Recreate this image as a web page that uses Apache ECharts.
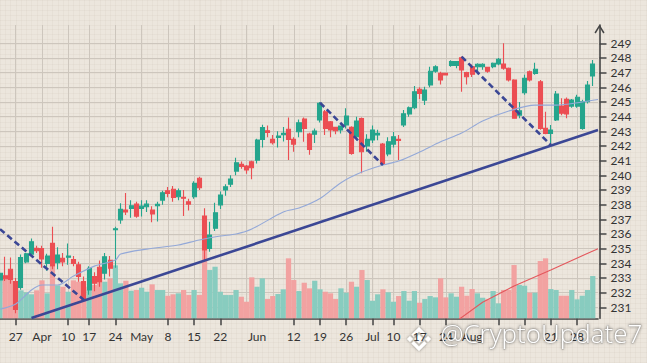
<!DOCTYPE html>
<html><head><meta charset="utf-8">
<script src="https://cdn.jsdelivr.net/npm/echarts@6/dist/echarts.min.js"></script>
<style>
html,body{margin:0;padding:0;background:#ece6dd;}
#chart{width:647px;height:363px;background-color:#ece6dd;
background-image:
 repeating-linear-gradient(0deg, rgba(196,184,170,0.13) 0px, rgba(196,184,170,0.13) 1px, transparent 1px, transparent 4.89px),
 repeating-linear-gradient(90deg, rgba(196,184,170,0.13) 0px, rgba(196,184,170,0.13) 1px, transparent 1px, transparent 5.25px);}
</style></head>
<body><div id="chart"></div>
<script>
// ---- data ----
const open = [232.86,233.15,233.6,232.75,232.36,234.1,234.63,235.02,235.0,234.0,
235.36,234.04,234.35,234.42,234.25,233.9,232.75,232.18,233.1,233.73,
233.32,234.2,236.3,236.95,237.63,237.75,238.04,237.75,237.86,237.63,
237.93,238.31,238.95,239.05,238.54,238.5,238.2,238.54,239.8,237.22,
235.02,236.39,237.98,239.0,239.39,240.29,240.75,240.63,240.93,241.04,
242.45,243.04,242.45,242.59,242.77,243.14,242.45,242.97,243.84,242.82,
242.8,243.77,244.34,243.65,243.27,243.09,243.43,243.27,242.63,243.88,
242.0,242.41,242.75,242.13,241.45,242.13,242.45,243.43,244.18,244.61,
245.86,245.13,246.16,247.1,246.95,246.95,247.5,247.5,248.02,247.0,
247.4,247.4,247.4,247.36,247.41,247.59,247.59,247.3,246.5,244.1,
245.63,247.06,246.95,246.38,243.2,242.86,243.77,244.72,245.18,244.72,
244.72,243.2,245.02,246.77];
const close = [233.32,232.95,232.9,230.85,234.4,234.65,235.47,234.86,234.3,234.5,
233.82,234.57,234.1,234.5,234.0,233.1,231.55,233.66,232.65,232.75,
234.45,233.66,236.35,237.68,237.5,237.93,237.22,237.9,238.04,237.36,
238.02,238.81,238.77,238.5,238.95,238.44,238.04,239.45,239.15,234.91,
235.93,237.45,238.66,239.22,239.75,240.86,240.6,240.36,240.52,242.41,
243.25,242.93,242.22,242.68,242.86,242.45,242.13,243.59,243.2,241.77,
243.02,244.91,243.2,243.09,243.04,243.36,244.04,241.5,243.7,241.61,
242.45,243.09,242.86,240.77,242.29,242.63,242.38,244.2,244.6,245.7,
245.59,245.82,247.1,247.4,246.5,246.84,247.75,247.75,247.18,246.72,
246.89,247.57,247.57,247.1,247.64,247.91,247.3,246.5,243.89,244.4,
246.61,246.5,247.23,243.2,242.86,243.09,245.54,244.23,244.18,245.13,
245.32,245.02,246.16,247.59];
const low = [232.7,232.8,232.6,230.6,232.2,234.0,234.5,234.7,233.7,233.5,
233.6,233.6,233.8,233.9,233.8,232.75,231.5,231.85,232.1,232.4,
232.9,233.1,233.7,236.7,237.3,237.1,237.1,237.2,237.5,236.8,
236.85,238.0,238.5,238.2,238.3,237.22,237.6,238.4,239.0,234.2,
234.79,236.2,237.7,238.6,239.2,240.0,240.45,240.1,239.73,240.8,
241.9,242.6,242.1,241.9,242.3,241.04,241.6,242.6,242.29,241.4,
242.2,243.6,242.75,242.59,242.8,242.85,243.2,241.4,242.4,240.14,
241.6,242.2,242.4,240.7,241.3,241.9,241.04,243.3,244.0,244.5,
245.2,244.79,246.0,247.0,246.2,246.8,247.4,247.3,245.7,246.2,
246.7,246.9,247.2,247.0,247.3,247.5,247.2,246.4,243.85,243.9,
245.5,246.4,246.85,243.1,242.8,242.07,243.7,244.1,243.9,244.6,
244.6,243.1,244.9,246.09];
const high = [233.5,234.45,234.4,233.0,234.6,234.7,235.7,235.2,235.2,234.65,
236.5,235.1,234.7,235.36,234.5,234.1,233.1,233.8,233.4,234.2,
234.7,234.5,236.5,238.1,238.8,238.3,238.2,238.3,238.3,237.9,
238.2,238.95,239.2,239.27,239.1,239.0,238.4,239.6,239.9,237.75,
236.84,238.13,238.9,239.4,240.0,241.2,240.95,240.7,241.0,242.5,
243.45,243.4,242.75,243.0,243.3,243.95,242.6,243.8,243.95,242.9,
243.2,245.0,244.45,243.7,243.3,243.4,244.57,243.35,244.0,243.95,
242.8,243.4,243.1,242.2,242.6,242.95,242.75,244.45,244.7,246.09,
246.0,246.04,247.4,247.5,247.07,247.0,247.85,247.8,248.1,247.07,
247.55,247.65,247.65,247.4,247.7,248.0,249.0,247.35,246.55,245.0,
246.85,247.15,247.68,246.5,244.34,243.43,245.75,245.25,245.3,245.2,
245.5,245.15,246.43,247.86];
const volume = [45,40,48,35,28,26,24,28,38,25,
52,33,31.6,26.6,38,36.6,31.6,28.3,33.3,38.3,
36.6,40,53,35,37.6,27.6,28.3,30.6,26.6,34,
28.3,28.3,22.6,24,25,28.3,23.3,28.3,23.3,78,
48.3,51.6,26.6,23.3,23.3,28.3,21.6,16.6,41,31.6,
40,19.3,22.3,24.3,29,60,38.3,27.3,35.6,30,
37.6,29,26.6,25,19.3,30,25.6,36.6,31.6,48.3,
38.3,17.6,24,29,26,16.6,22.3,27.3,17.6,27.3,
15.6,19.3,22.3,21,40,21,25,21.6,31.6,22.6,
29.3,25,20.6,19,27.3,15,28.3,28.3,53.3,33.3,
32.6,25.6,25.6,57.3,60,29.3,28.3,22.6,22.6,28.3,
19,22.6,28.3,42.3];
// moving averages: [candle index, price]
const maBlue = [[0,230.88],[3,231.23],[6,232.18],[8,232.52],[11,232.52],[14,233.13],[18,233.81],[22,234.22],[23,234.63],[28,234.97],[34,235.25],[38,235.59],[42,235.86],[45,236.0],[48,236.34],[54,237.5],[57,237.77],[61,238.42],[65,239.5],[69,240.22],[73,240.7],[76,240.97],[80,241.59],[84,242.29],[88,242.88],[92,243.7],[97,244.38],[102,244.79],[106,244.79],[111,245.0],[114,245.17]];
const maRed = [[87,230.05],[92,231.35],[98,232.45],[105,233.55],[109,234.2],[114,235.0]];
const trendLine = [[6,230.27],[114,243.09]];
const dashA = [[0,236.33],[16,231.5]];
const dashB = [[61,244.95],[73,240.7]];
const dashC = [[88,248.09],[105,242.07]];
// axis labels (the week labels under the watermark are not visible in the reference)
const categoryCount = 115;
const xLabelIdx = [3,8,13,17,22,27,32,37,42,49,56,61,66,71,75,80,85,90,105,110];
const xLabels = ['27','Apr','10','17','24','May','8','15','22','Jun','12','19','26','Jul','10','17','24','Aug','21','28'];
const xTickIdx = [3,13,17,22,32,37,42,56,61,66,71,75,80,85,95,100,105,110];
const xGridIdx = [3,8,13,17,22,27,32,37,42,47,52,56,61,66,71,75,80,85,90,95,100,105,110];
const yTicks = [231,232,233,234,235,236,237,238,239,240,241,242,243,244,245,246,247,248,249];

// ---- build ----
const categories = Array.from({length: categoryCount}, (_, i) => 'd' + i);
const labelMap = {};
xLabelIdx.forEach((k, j) => { labelMap['d' + k] = xLabels[j]; });
const tickSet = new Set(xTickIdx), gridSet = new Set(xGridIdx), labelSet = new Set(xLabelIdx);
const candleData = open.map((o, i) => [o, close[i], low[i], high[i]]);
const UP = '#25a58d', DN = '#ec4e53', VUP = '#88ccbf', VDN = '#f2a2a1';
const AX = '#454545', NAVY = '#3b4795', GRID = '#cdc6bd';

const chart = echarts.init(document.getElementById('chart'), null, {renderer: 'svg'});
const dashStyle = {color: NAVY, width: 2.6, type: [6, 3.5]};
chart.setOption({
  animation: false,
  backgroundColor: 'transparent',
  textStyle: {fontFamily: 'Lato'},
  grid: {left: -0.5, top: 25, width: 598.5, height: 293.33},
  xAxis: {
    type: 'category', data: categories, boundaryGap: false,
    axisLine: {onZero: false, lineStyle: {color: AX, width: 1.6}},
    axisTick: {interval: (i) => tickSet.has(i), length: 7, lineStyle: {color: AX, width: 1.5}},
    axisLabel: {interval: (i) => labelSet.has(i), formatter: (v) => labelMap[v] || '', margin: 12, color: '#333', fontSize: 12, fontFamily: 'Lato'},
    splitLine: {show: true, interval: (i) => gridSet.has(i), lineStyle: {color: GRID, width: 1}}
  },
  yAxis: [{
    type: 'value', position: 'right', offset: 1.5, min: 230.25, max: 250.25,
    axisLine: {show: true, lineStyle: {color: AX, width: 1.6},
      symbol: ['none', 'path://M0,8 L5,0 L10,8 L8.7,8.9 L5,2.7 L1.3,8.9 Z'], symbolSize: [12, 9], symbolOffset: [0, -4]},
    axisTick: {show: true, length: 7, lineStyle: {color: AX, width: 1.5}, customValues: yTicks},
    axisLabel: {customValues: yTicks, margin: 11, color: '#333', fontSize: 12, fontFamily: 'Lato'},
    splitLine: {show: true, lineStyle: {color: GRID, width: 1}}
  }, {
    type: 'value', min: 0, max: 293.33, show: false
  }],
  series: [
    {type: 'bar', yAxisIndex: 1, barWidth: '100%', barCategoryGap: '0%', z: 1, silent: true,
     data: volume.map((v, i) => ({value: v, itemStyle: {color: close[i] >= open[i] ? VUP : VDN}}))},
    {type: 'line', data: maRed, symbol: 'none', lineStyle: {color: '#e4575c', width: 1.1}, z: 2, silent: true},
    {type: 'candlestick', data: candleData, barWidth: '86%', z: 3,
     itemStyle: {color: UP, color0: DN, borderColor: UP, borderColor0: DN, borderWidth: 1.1}},
    {type: 'line', data: maBlue, symbol: 'none', smooth: 0.3, lineStyle: {color: '#93a8d8', width: 1.1}, z: 4, silent: true},
    {type: 'line', data: trendLine, symbol: 'none', lineStyle: {color: NAVY, width: 2.6}, z: 5, silent: true},
    {type: 'line', data: dashA, symbol: 'none', lineStyle: dashStyle, z: 5, silent: true},
    {type: 'line', data: dashB, symbol: 'none', lineStyle: dashStyle, z: 5, silent: true},
    {type: 'line', data: dashC, symbol: 'none', lineStyle: dashStyle, z: 5, silent: true}
  ],
  graphic: [
    {type: 'group', z: 100, children: [
      {type: 'polygon', shape: {points: [[419,334.5],[423.5,339],[419,343.5],[414.5,339]]}, style: {fill: '#fff', shadowColor: 'rgba(0,0,0,0.45)', shadowBlur: 3}},
      {type: 'polygon', shape: {points: [[410,336],[413,339],[410,342],[407,339]]}, style: {fill: '#fff', shadowColor: 'rgba(0,0,0,0.45)', shadowBlur: 3}},
      {type: 'polygon', shape: {points: [[428,336],[431,339],[428,342],[425,339]]}, style: {fill: '#fff', shadowColor: 'rgba(0,0,0,0.45)', shadowBlur: 3}},
      {type: 'polygon', shape: {points: [[419,327],[426.5,334.5],[424.3,336.7],[419,331.4],[413.7,336.7],[411.5,334.5]]}, style: {fill: '#fff', shadowColor: 'rgba(0,0,0,0.45)', shadowBlur: 3}},
      {type: 'polygon', shape: {points: [[419,351],[426.5,343.5],[424.3,341.3],[419,346.6],[413.7,341.3],[411.5,343.5]]}, style: {fill: '#fff', shadowColor: 'rgba(0,0,0,0.45)', shadowBlur: 3}}
    ]},
    {type: 'text', z: 100, left: 440, top: 320,
     style: {text: '@CryptoUpdate7', fill: '#ffffff', fontSize: 26, fontFamily: 'Open Sans', fontWeight: 300,
             textShadowColor: 'rgba(0,0,0,0.55)', textShadowBlur: 3, textShadowOffsetX: 0, textShadowOffsetY: 0,
             stroke: 'rgba(90,90,90,0.35)', lineWidth: 0.8}}
  ]
});
</script></body></html>
